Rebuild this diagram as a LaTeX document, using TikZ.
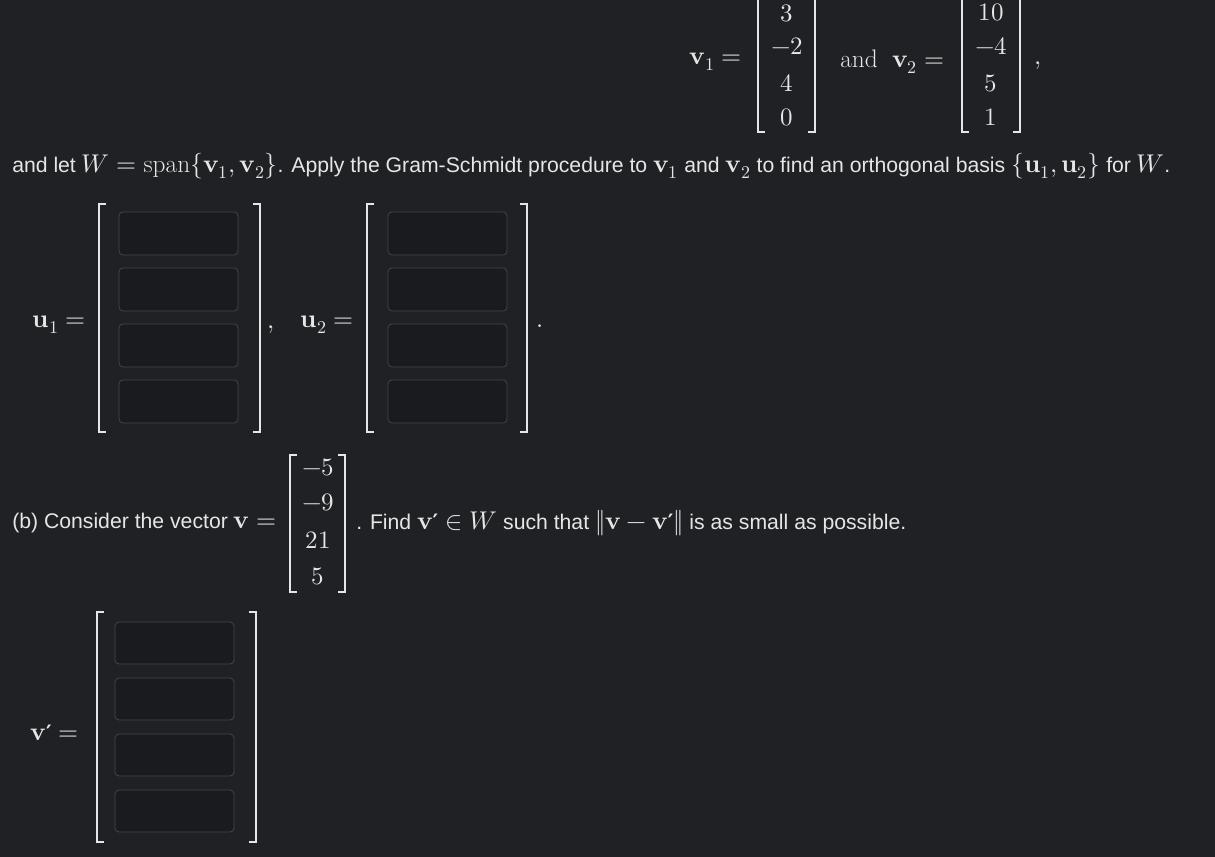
\documentclass[tikz,border=0pt]{standalone}
\usepackage{amsmath}
\usepackage{fontspec}
\setmainfont{Liberation Sans}
\newfontfamily\lmr{Latin Modern Roman}
\newfontfamily\djv{DejaVu Sans}
\usepackage{unicode-math}
\setmathfont[Scale=1.21]{Latin Modern Math}
\newcommand{\prm}{\text{\djv\bfseries ′}}
\definecolor{bg}{HTML}{202124}
\definecolor{fg}{HTML}{E6E6E6}
\definecolor{boxfill}{HTML}{1A1B1E}
\definecolor{boxline}{HTML}{44464A}
\begin{document}
\begin{tikzpicture}[x=0.75pt,y=-0.75pt,
  txt/.style={text=fg,inner sep=0pt,font=\fontsize{15.9}{18}\selectfont},
  ent/.style={text=fg,inner sep=0pt,font=\fontsize{15.5}{18}\selectfont},
  inbox/.style={draw=boxline,fill=boxfill,rounded corners=3pt,line width=0.6pt}]
\fill[bg] (0,0) rectangle (1215,857);
\useasboundingbox (0,0) rectangle (1215,857);
\newcommand{\lbr}[3]{% x, ytop, ybot
  \draw[cyan!70,line width=0.7pt] (#1-0.8,#2) -- (#1-0.8,#3);
  \draw[fg,line width=1.3pt] (#1+7,#2) -- (#1,#2) -- (#1,#3) -- (#1+7,#3);}
\newcommand{\rbr}[3]{%
  \draw[red!80,line width=0.7pt] (#1+0.8,#2) -- (#1+0.8,#3);
  \draw[fg,line width=1.3pt] (#1-7,#2) -- (#1,#2) -- (#1,#3) -- (#1-7,#3);}
% top vectors
\node[txt,anchor=east] (v1l) at (742,62) {$\symbf{v}_1=$};
\lbr{758}{-2}{132}\rbr{815}{-2}{132}
\node[ent] (a1) at (787,13) {$3$};
\node[ent] (a2) at (787,46) {$-2$};
\node[ent] (a3) at (787,83) {$4$};
\node[ent] (a4) at (787,117) {$0$};
\node[txt,anchor=west] (and) at (840,62) {$\text{\lmr\fontsize{19}{20}\selectfont and}\;\;\symbf{v}_2=$};
\lbr{962}{-2}{132}\rbr{1020}{-2}{132}
\node[ent] (b1) at (991,12) {$10$};
\node[ent] (b2) at (991,46) {$-4$};
\node[ent] (b3) at (991,83) {$5$};
\node[ent] (b4) at (991,117) {$1$};
\node[txt] (c1) at (1038,66) {$,$};
% line 2
\node[txt,anchor=west] (l2) at (12,166) {and let $W=\text{\lmr\fontsize{19}{20}\selectfont span}\{\symbf{v}_1,\symbf{v}_2\}$. Apply the Gram-Schmidt procedure to $\symbf{v}_1$ and $\symbf{v}_2$ to find an orthogonal basis $\{\symbf{u}_1,\symbf{u}_2\}$ for $W$.};
% u1, u2
\node[txt,anchor=east] (u1) at (86,325) {$\symbf{u}_1=$};
\lbr{99}{204}{432}\rbr{260}{204}{432}
\foreach \y in {212,268,324,380} \draw[inbox] (119,\y) rectangle (238,\y+43);
\node[txt] (c2) at (271,330) {$,$};
\node[txt,anchor=east] (u2) at (354,325) {$\symbf{u}_2=$};
\lbr{367}{204}{432}\rbr{527}{204}{432}
\foreach \y in {212,268,324,380} \draw[inbox] (388,\y) rectangle (507,\y+43);
\node[txt] (p1) at (540,326) {$.$};
% (b)
\node[txt,anchor=west] (bq) at (12,523) {(b) Consider the vector $\symbf{v}=$};
\lbr{290}{455}{592}\rbr{345}{455}{592}
\node[ent] (d1) at (318,467) {$-5$};
\node[ent] (d2) at (318,502) {$-9$};
\node[ent] (d3) at (318,540) {$21$};
\node[ent] (d4) at (318,576) {$5$};
\node[txt,anchor=west] (bq2) at (356,523) {. Find $\symbf{v}\prm\in W$ such that $\lVert\symbf{v}-\symbf{v}\prm\rVert$ is as small as possible.};
% v'
\node[txt,anchor=east] (vp) at (79,733) {$\symbf{v}\prm=$};
\lbr{97}{612}{842}\rbr{256}{612}{842}
\foreach \y in {622,678,734,790} \draw[inbox] (115,\y) rectangle (234,\y+42);
\end{tikzpicture}
\end{document}
